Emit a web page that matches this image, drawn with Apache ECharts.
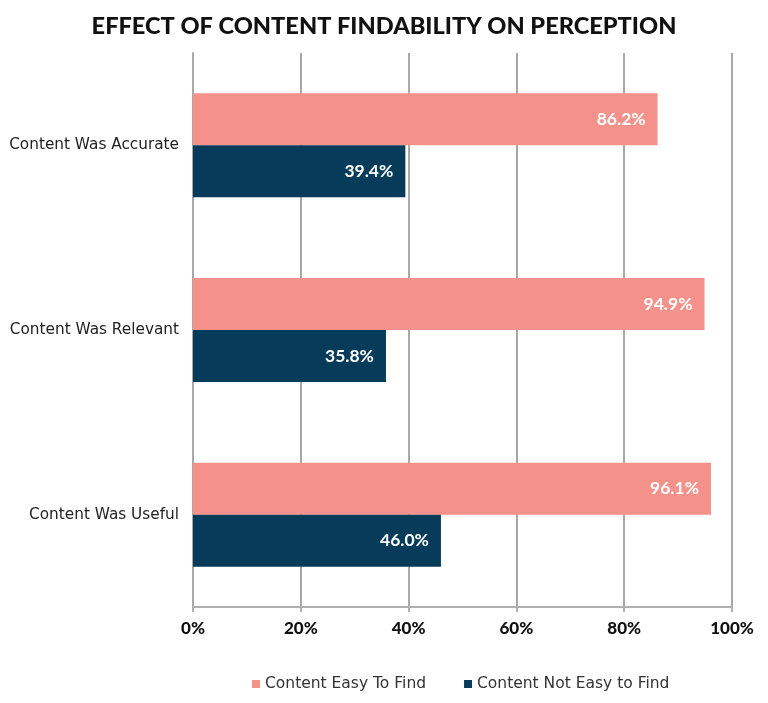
<!DOCTYPE html>
<html><head><meta charset="utf-8">
<script src="https://cdn.jsdelivr.net/npm/echarts@6/dist/echarts.min.js"></script>
<style>html,body{margin:0;padding:0;background:#fff}#c{width:768px;height:703px}</style>
</head><body><div id="c"></div>
<script>
const categories = ["Content Was Accurate", "Content Was Relevant", "Content Was Useful"];
const easyToFind = [86.2, 94.9, 96.1];
const notEasyToFind = [39.4, 35.8, 46.0];
const seriesNames = ["Content Easy To Find", "Content Not Easy to Find"];
const xTicks = [0, 20, 40, 60, 80, 100];

const chart = echarts.init(document.getElementById('c'));
const labelStyle = {
  show: true, position: 'insideRight', distance: 12, color: '#fff',
  fontFamily: 'Lato', fontWeight: 'bold', fontSize: 17.5,
  formatter: p => p.value.toFixed(1) + '%'
};
chart.setOption({
  animation: false,
  title: {
    text: 'EFFECT OF CONTENT FINDABILITY ON PERCEPTION',
    left: 'center', top: 9,
    textStyle: { fontFamily: 'Lato', fontWeight: 900, fontSize: 23.6, color: '#111' }
  },
  legend: {
    bottom: 6, left: 247, icon: 'rect', itemWidth: 8, itemHeight: 8, itemGap: 38,
    textStyle: { fontFamily: 'DejaVu Sans', fontSize: 15.5, color: '#333' },
    data: seriesNames
  },
  grid: { left: 193, right: 36, top: 53, bottom: 96 },
  xAxis: {
    type: 'value', min: 0, max: 100, interval: 20,
    axisLine: { show: true, lineStyle: { color: '#b0b0b0', width: 2 } },
    axisTick: { show: true, length: 5, lineStyle: { color: '#b0b0b0', width: 2 } },
    splitLine: { show: true, lineStyle: { color: '#a8a8a8', width: 2 } },
    axisLabel: {
      margin: 13, color: '#111', fontFamily: 'Lato', fontWeight: 900, fontSize: 17,
      formatter: v => xTicks.includes(v) ? v + '%' : ''
    }
  },
  yAxis: {
    type: 'category', data: categories, inverse: true,
    axisLine: { show: true, lineStyle: { color: '#a8a8a8', width: 2 } },
    axisTick: { show: false },
    axisLabel: { margin: 14, color: '#222', fontFamily: 'DejaVu Sans', fontSize: 15.3 }
  },
  series: [
    { name: seriesNames[0], type: 'bar', data: easyToFind, barWidth: 52, barGap: '0%',
      itemStyle: { color: '#F4918A' }, label: labelStyle },
    { name: seriesNames[1], type: 'bar', data: notEasyToFind, barWidth: 52, barGap: '0%',
      itemStyle: { color: '#073B5A' }, label: labelStyle }
  ]
});
</script></body></html>
